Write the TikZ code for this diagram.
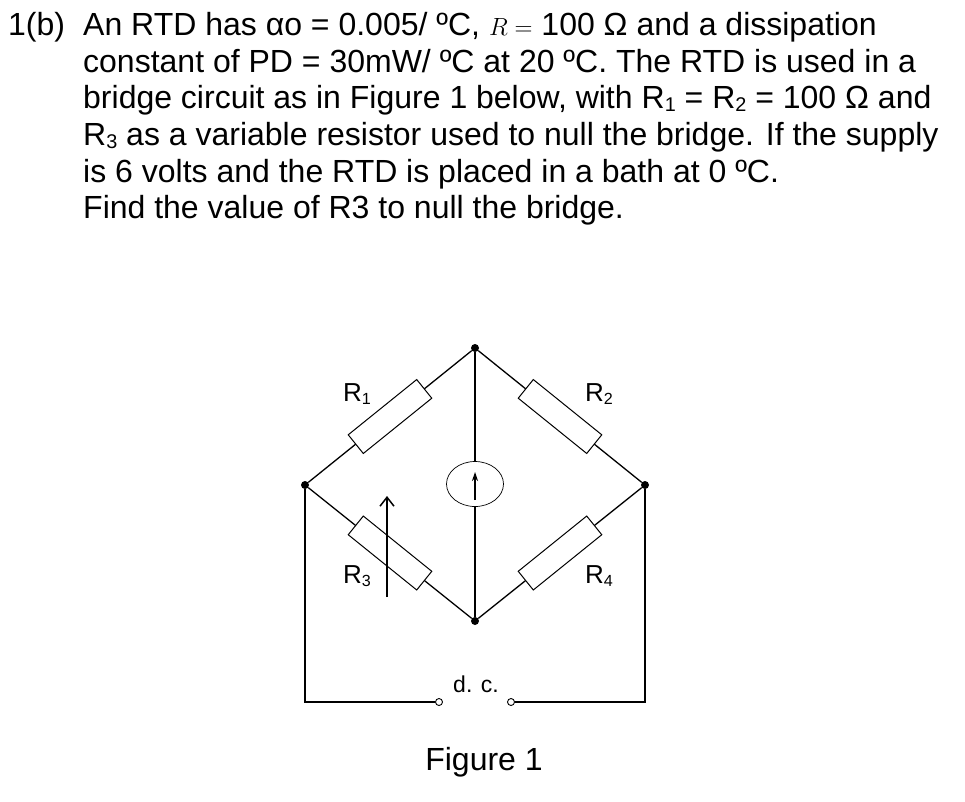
\documentclass[tikz,border=0pt]{standalone}
\usepackage{fontspec}
\setmainfont{Liberation Sans}
\usetikzlibrary{calc,shapes.geometric,arrows.meta}
\newcommand{\sbs}[1]{\raisebox{-0.12em}{\fontsize{0.62em}{0.62em}\selectfont #1}}
\begin{document}
\begin{tikzpicture}[x=1pt,y=-1pt,
  txt/.style={anchor=base west,inner sep=0pt,font=\fontsize{32}{36}\selectfont},
  lbl/.style={inner sep=0pt,font=\fontsize{26}{28}\selectfont},
  wire/.style={line width=1.3pt},
  res/.style={draw,line width=1pt,fill=white,minimum width=88pt,minimum height=24pt,inner sep=0pt},
  dot/.style={circle,fill,inner sep=0pt,minimum size=8pt},
  term/.style={circle,draw,fill=white,inner sep=0pt,minimum size=7pt,line width=0.9pt}]
\useasboundingbox (0,0) rectangle (965,801);
\node[txt] (l0) at (8,35) {1(b)};
\node[txt] (l1) at (83,35) {An RTD has αo = 0.005/ ºC, $R=$ 100 Ω and a dissipation};
\node[txt] (l2) at (83,72) {constant of PD = 30mW/ ºC at 20 ºC. The RTD is used in a};
\node[txt] (l3) at (83,108) {bridge circuit as in Figure 1 below, with R\sbs{1} = R\sbs{2} = 100 Ω and};
\node[txt] (l4) at (83,145) {R\sbs{3} as a variable resistor used to null the bridge. If the supply};
\node[txt] (l5) at (83,182) {is 6 volts and the RTD is placed in a bath at 0 ºC.};
\node[txt] (l6) at (83,218) {Find the value of R3 to null the bridge.};
% bridge nodes
\node[dot] (T) at (475,348) {};
\node[dot] (L) at (305,485) {};
\node[dot] (R) at (645,485) {};
\node[dot] (B) at (475,621) {};
\draw[wire] (T) -- (L) (T) -- (R) (L) -- (B) (R) -- (B);
\node[res,rotate=38.9] (r1) at ($(T)!0.5!(L)$) {};
\node[res,rotate=-38.9] (r2) at ($(T)!0.5!(R)$) {};
\node[res,rotate=-38.9] (r3) at ($(L)!0.5!(B)$) {};
\node[res,rotate=38.9] (r4) at ($(R)!0.5!(B)$) {};
% galvanometer
\node[draw,ellipse,minimum width=57pt,minimum height=45pt,inner sep=0pt,line width=0.7pt,fill=white] (G) at (475,484) {};
\draw[wire] (T) -- (G.north) (G.south) -- (B);
\draw[wire,-{Stealth[length=9pt,width=6pt]}] (475,500) -- (475,472);
% variable arrow
\coordinate (va) at (387,597);
\coordinate (vb) at (387,496);
\draw[line width=1.5pt,-{Straight Barb[length=9pt,width=14pt]}] (va) -- (vb);
% supply
\node[term] (t1) at (439,702) {};
\node[term] (t2) at (511,702) {};
\draw[wire] (L) -- (305,702) -- (t1);
\draw[wire] (R) -- (645,702) -- (t2);
\node[lbl,font=\fontsize{23}{26}\selectfont] (dc) at (476,684) {d. c.};
\node[lbl] (R1) at (357,394) {R\sbs{1}};
\node[lbl] (R2) at (599,394) {R\sbs{2}};
\node[lbl] (R3) at (357,576) {R\sbs{3}};
\node[lbl] (R4) at (599,576) {R\sbs{4}};
\node[inner sep=0pt,font=\fontsize{32}{36}\selectfont] (fig) at (484,762) {Figure 1};
\end{tikzpicture}
\end{document}
